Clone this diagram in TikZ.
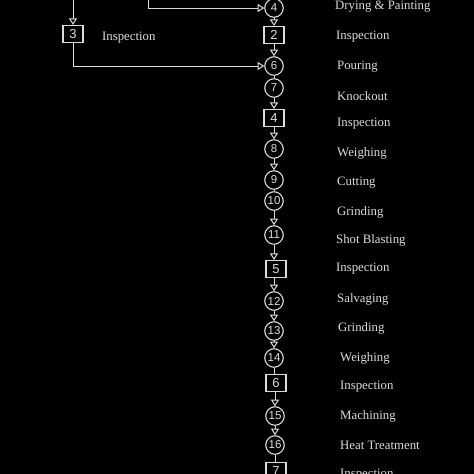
\documentclass[tikz,border=0pt]{standalone}
\usepackage{fontspec}
\setmainfont{Liberation Serif}
\newfontfamily\numfont{Liberation Sans}
\usetikzlibrary{arrows.meta}
\definecolor{fg}{RGB}{220,220,220}
\begin{document}
\begin{tikzpicture}[x=1pt,y=-1pt,
 circ/.style={circle,draw=fg,line width=1.1pt,minimum size=18.5pt,inner sep=0pt,text=fg,font=\numfont\fontsize{11.5}{11.5}\selectfont},
 sq/.style={rectangle,draw=fg,line width=1.1pt,minimum width=20pt,minimum height=17pt,inner sep=0pt,text=fg,font=\numfont\fontsize{13}{13}\selectfont},
 lab/.style={anchor=west,text=fg,inner sep=0pt,font=\fontsize{12.8}{14}\selectfont},
 flow/.style={draw=fg,line width=1pt,-{Triangle[open,length=6.5pt,width=8pt]}},
 link/.style={draw=fg,line width=1pt}]
\fill[black] (0,0) rectangle (474,474);
\useasboundingbox (0,0) rectangle (474,474);
% main column
\node[circ] (c4) at (274,8) {4};
\node[sq]   (b2) at (274,35) {2};
\node[circ] (c6) at (274,66) {6};
\node[circ] (c7) at (274,88) {7};
\node[sq]   (b4) at (274,118) {4};
\node[circ] (c8) at (274,149) {8};
\node[circ] (c9) at (274,180) {9};
\node[circ] (c10) at (274,201) {10};
\node[circ] (c11) at (274,235) {11};
\node[sq]   (b5) at (276,269) {5};
\node[circ] (c12) at (274,301) {12};
\node[circ] (c13) at (274,331) {13};
\node[circ] (c14) at (274,358) {14};
\node[sq]   (b6) at (276,383) {6};
\node[circ] (c15) at (275,416) {15};
\node[circ] (c16) at (275,445) {16};
\node[sq]   (b7) at (276,471) {7};
% left column
\node[sq] (b3) at (73,34) {3};
\node[lab] (l3) at (102,38) {Inspection};
\coordinate (t1) at (73,-1);
\coordinate (t2) at (148,-1);
% labels
\node[lab] (l1) at (335,7) {Drying \& Painting};
\node[lab] (l2) at (336,37) {Inspection};
\node[lab] (l4) at (337,67) {Pouring};
\node[lab] (l5) at (337,96) {Knockout};
\node[lab] (l6) at (337,124) {Inspection};
\node[lab] (l7) at (337,153) {Weighing};
\node[lab] (l8) at (337,183) {Cutting};
\node[lab] (l9) at (337,212) {Grinding};
\node[lab] (l10) at (336,240) {Shot Blasting};
\node[lab] (l11) at (336,269) {Inspection};
\node[lab] (l12) at (337,299) {Salvaging};
\node[lab] (l13) at (338,328) {Grinding};
\node[lab] (l14) at (340,358) {Weighing};
\node[lab] (l15) at (340,387) {Inspection};
\node[lab] (l16) at (340,416) {Machining};
\node[lab] (l17) at (340,445) {Heat Treatment};
\node[lab] (l18) at (340,475) {Inspection};
% connectors
\draw[flow] (t1) -- (b3);
\draw[flow] (t2) |- (c4);
\draw[flow] (b3) |- (c6);
\draw[flow] (c4) -- (b2);
\draw[flow] (b2) -- (c6);
\draw[link] (c6) -- (c7);
\draw[flow] (c7) -- (b4);
\draw[flow] (b4) -- (c8);
\draw[flow] (c8) -- (c9);
\draw[link] (c9) -- (c10);
\draw[flow] (c10) -- (c11);
\draw[flow] (c11) -- (c11 |- b5.north);
\draw[flow] (b5.south -| c12) -- (c12);
\draw[flow] (c12) -- (c13);
\draw[flow] (c13) -- (c14);
\draw[link] (c14) -- (c14 |- b6.north);
\draw[flow] (b6.south -| c15) -- (c15);
\draw[flow] (c15) -- (c16);
\draw[link] (c16) -- (c16 |- b7.north);
\end{tikzpicture}
\end{document}
